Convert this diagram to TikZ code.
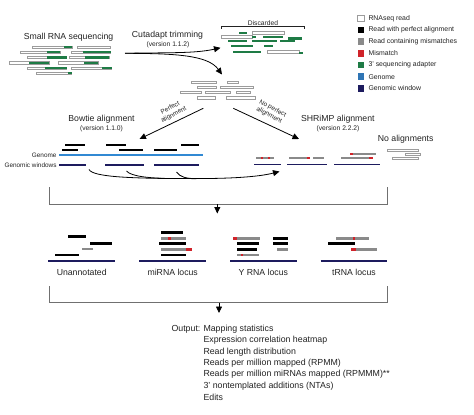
\documentclass[tikz,border=0pt]{standalone}
\usepackage{fontspec}
\setmainfont{Liberation Sans}
\usetikzlibrary{arrows.meta}
\definecolor{readgray}{HTML}{9C9C9C}
\definecolor{adaptgreen}{HTML}{1E7B45}
\definecolor{mmgray}{HTML}{8A8A8A}
\definecolor{mmred}{HTML}{D0232A}
\definecolor{genomeblue}{HTML}{3189D3}
\definecolor{legblue}{HTML}{2F75B5}
\definecolor{winnavy}{HTML}{1D1B5E}
\definecolor{boxgray}{HTML}{707070}
\definecolor{txt}{HTML}{222222}
\newcommand\rnaR[3]{\draw[rnaread] (#1,#3-1.1) rectangle (#2,#3+1.1);}
\newcommand\grnR[3]{\fill[adaptgreen] (#1,#3-1.15) rectangle (#2,#3+1.15);}
\newcommand\blkR[3]{\fill[black] (#1,#3-1.4) rectangle (#2,#3+1.4);}
\newcommand\gryR[3]{\fill[mmgray] (#1,#3-1.4) rectangle (#2,#3+1.4);}
\newcommand\redR[3]{\fill[mmred] (#1,#3-1.4) rectangle (#2,#3+1.4);}
\newcommand\sgryR[3]{\fill[mmgray] (#1,#3-1.1) rectangle (#2,#3+1.1);}
\newcommand\sredR[3]{\fill[mmred] (#1,#3-1.1) rectangle (#2,#3+1.1);}
\begin{document}
\begin{tikzpicture}[x=1pt,y=-1pt,
  rnaread/.style={draw=readgray, fill=white, line width=0.55pt},
  genomeline/.style={draw=genomeblue, line width=1.8pt},
  windowline/.style={draw=winnavy, line width=1.9pt},
  boxline/.style={draw=boxgray, line width=0.7pt},
  flow/.style={-{Triangle[length=6.5pt,width=6pt]}, line width=0.8pt, black},
  flowplain/.style={line width=0.8pt, black},
  lbl/.style={font=\fontsize{8.7}{10}\selectfont, inner sep=0, text=txt},
  ver/.style={font=\fontsize{6.7}{8}\selectfont, inner sep=0, text=txt},
  leg/.style={font=\fontsize{6.9}{8}\selectfont, inner sep=0, text=txt, anchor=west},
  small/.style={font=\fontsize{6.4}{7.4}\selectfont, inner sep=0, text=txt},
  legsq/.style={minimum size=6.7pt, inner sep=0},
  outl/.style={font=\fontsize{8.8}{10}\selectfont, inner sep=0, text=txt, anchor=west}
]
\useasboundingbox (0,0) rectangle (474,415);

% ---------- titles ----------
\node[lbl] (srs) at (68.5,37) {Small RNA sequencing};
\node[lbl] (cut) at (167.5,35) {Cutadapt trimming};
\node[ver] (cutv) at (168,44.3) {(version 1.1.2)};
\node[ver] (disc) at (263,22.7) {Discarded};

% ---------- legend ----------
\node[legsq, draw=readgray, fill=white] (l1) at (361,18.3) {};
\node[legsq, fill=black] (l2) at (361,30) {};
\node[legsq, fill=mmgray] (l3) at (361,41.7) {};
\node[legsq, fill=mmred] (l4) at (361,53.3) {};
\node[legsq, fill=adaptgreen] (l5) at (361,65) {};
\node[legsq, fill=legblue] (l6) at (361,76.7) {};
\node[legsq, fill=winnavy] (l7) at (361,88.3) {};
\node[leg] (t1) at (368.3,18.3) {RNAseq read};
\node[leg] (t2) at (368.3,30) {Read with perfect alignment};
\node[leg] (t3) at (368.3,41.7) {Read containing mismatches};
\node[leg] (t4) at (368.3,53.3) {Mismatch};
\node[leg] (t5) at (368.3,65) {3' sequencing adapter};
\node[leg] (t6) at (368.3,76.7) {Genome};
\node[leg] (t7) at (368.3,88.3) {Genomic window};

% ---------- raw reads ----------
\rnaR{32.3}{72.3}{47}\grnR{64.3}{72.3}{47}
\rnaR{77.3}{110.7}{47}
\rnaR{20.7}{60}{52.3}\grnR{46.7}{60}{52.3}
\rnaR{71.7}{110.7}{52.3}\grnR{82.7}{110.7}{52.3}
\rnaR{27.3}{66.7}{57.5}\grnR{46.7}{66.7}{57.5}
\rnaR{69.3}{109.3}{57.5}\grnR{85}{109.3}{57.5}
\rnaR{9.3}{49}{62.7}\grnR{29.3}{49}{62.7}
\rnaR{58.3}{98.3}{62.7}\grnR{84}{98.3}{62.7}
\rnaR{27.3}{66.7}{68}\grnR{45}{66.7}{68}
\rnaR{71.7}{111.7}{68}\grnR{101.7}{111.7}{68}
\rnaR{36}{71.7}{73.3}\grnR{68.3}{71.7}{73.3}

% ---------- discarded ----------
\coordinate (bl) at (221.7,26.7);
\coordinate (br) at (304,26.7);
\draw[line width=0.6pt, txt] ([yshift=-2pt]bl) -- (bl) -- (br) -- ([yshift=-2pt]br);
\grnR{239.3}{246.7}{32.7}
\rnaR{252.7}{284}{32.7}
\rnaR{221.7}{252}{36.7}\grnR{252}{255.5}{36.7}
\grnR{263}{283.3}{36.7}
\grnR{288}{301.7}{38.6}
\grnR{228}{246.7}{41}
\grnR{251.7}{276.7}{41}
\grnR{280}{295}{41}
\grnR{231}{253}{46.3}
\grnR{263.5}{273.3}{46.3}
\grnR{232.7}{261}{51.7}
\rnaR{267}{299}{51.7}\grnR{299}{302.7}{53.2}

% ---------- trimmed reads ----------
\rnaR{191.5}{216.7}{82}
\rnaR{227.3}{238.3}{82}
\rnaR{197.5}{216.7}{87.2}
\rnaR{220}{253}{87.2}
\rnaR{180}{201}{92.4}
\rnaR{205}{230}{92.4}
\rnaR{236.7}{250.7}{92.4}
\rnaR{197.3}{215.7}{97.7}
\rnaR{226}{255}{97.7}

% ---------- cutadapt arrows ----------
\coordinate (c0) at (125,53.3);
\coordinate (cD) at (220.5,47.8);
\coordinate (cT) at (222,74.5);
\draw[flow] (c0) .. controls (170,52.5) and (195,53.5) .. (cD);
\draw[flow] (c0) .. controls (175,53.5) and (208,55) .. (cT);

% ---------- bowtie ----------
\node[lbl] (bow) at (101.5,119.3) {Bowtie alignment};
\node[ver] (bowv) at (101.5,128.5) {(version 1.1.0)};
\node[small, rotate=28, align=center] (perf) at (172,111.5) {Perfect\\alignment};
\coordinate (pa0) at (203.3,108.3);
\coordinate (pa1) at (139.5,139);
\draw[flow] (pa0) -- (pa1);

\blkR{65}{85}{145}\blkR{106}{126}{145}\blkR{181}{198.7}{145}
\blkR{61.7}{78.3}{150}\blkR{119.3}{143.3}{150}\blkR{154.3}{176.7}{150}
\coordinate (g0) at (59.3,155.3);
\coordinate (g1) at (203.3,155.3);
\draw[genomeline] (g0) -- (g1);
\node[small, anchor=east] (gl) at (56.7,155.3) {Genome};
\node[small, anchor=east] (wl) at (56.7,165) {Genomic windows};
\coordinate (w1a) at (59.3,165); \coordinate (w1b) at (86,165);
\coordinate (w2a) at (105.3,165); \coordinate (w2b) at (144,165);
\coordinate (w3a) at (154,165); \coordinate (w3b) at (199.3,165);
\draw[windowline] (w1a) -- (w1b);
\draw[windowline] (w2a) -- (w2b);
\draw[windowline] (w3a) -- (w3b);

% curves to SHRiMP
\coordinate (k1) at (89,169.5);
\coordinate (k2) at (126.5,171);
\coordinate (k3) at (176.5,172);
\coordinate (km) at (195,178.6);
\coordinate (kt) at (279.5,171.5);
\draw[flowplain] (k1) .. controls (93,177) and (130,178.6) .. (km);
\draw[flowplain] (k2) .. controls (131,176.5) and (150,178.4) .. (175,178.6);
\draw[flowplain] (k3) .. controls (180,177) and (186,178.5) .. (km);
\draw[flow] (km) .. controls (230,178.6) and (258,177) .. (kt);

% ---------- SHRiMP ----------
\node[lbl] (shr) at (337.8,119.3) {SHRiMP alignment};
\node[ver] (shrv) at (338,128.5) {(version 2.2.2)};
\node[small, rotate=-28, align=center] (nperf) at (271,112) {No perfect\\alignment};
\coordinate (na0) at (233.3,108.3);
\coordinate (na1) at (299,139);
\draw[flow] (na0) -- (na1);
\node[lbl] (noal) at (405.7,139.3) {No alignments};
\rnaR{387.3}{418.3}{150}
\rnaR{405}{420.7}{154.2}
\rnaR{392.3}{418.3}{158.4}

\sgryR{350}{376}{154}\sredR{350}{353.2}{154}
\sgryR{256}{274}{158.3}\sredR{261}{263}{158.3}\sredR{267.5}{269.5}{158.3}
\sgryR{289.3}{310}{158.3}\sredR{306.5}{310}{158.3}
\sgryR{312.7}{324}{158.3}
\sgryR{340.7}{373}{158.3}\sredR{369}{372.5}{158.3}
\coordinate (s1a) at (254,164.5); \coordinate (s1b) at (280.7,164.5);
\coordinate (s2a) at (287.3,164.5); \coordinate (s2b) at (327,164.5);
\coordinate (s3a) at (334,164.5); \coordinate (s3b) at (379.5,164.5);
\draw[windowline] (s1a) -- (s1b);
\draw[windowline] (s2a) -- (s2b);
\draw[windowline] (s3a) -- (s3b);

% ---------- upper collecting box ----------
\coordinate (b1t) at (49.3,187);
\coordinate (b1b) at (49.3,204);
\coordinate (b2b) at (387.3,204);
\coordinate (b2t) at (387.3,187);
\coordinate (bm) at (217.3,204);
\coordinate (bmt) at (217.3,213.5);
\draw[boxline] (b1t) -- (b1b) -- (b2b) -- (b2t);
\draw[flow] (bm) -- (bmt);

% ---------- loci ----------
\coordinate (u0) at (48.3,260.7); \coordinate (u1) at (115,260.7);
\coordinate (m0) at (139.3,260.7); \coordinate (m1) at (206,260.7);
\coordinate (y0) at (230,260.7); \coordinate (y1) at (296.7,260.7);
\coordinate (r0) at (320.7,260.7); \coordinate (r1) at (387.3,260.7);
\draw[windowline] (u0) -- (u1);
\draw[windowline] (m0) -- (m1);
\draw[windowline] (y0) -- (y1);
\draw[windowline] (r0) -- (r1);
\node[lbl] (unl) at (81.7,272.5) {Unannotated};
\node[lbl] (mil) at (172.7,272.5) {miRNA locus};
\node[lbl] (yl) at (263.3,272.5) {Y RNA locus};
\node[lbl] (tl) at (354,272.5) {tRNA locus};

% unannotated
\blkR{68.3}{86}{236.7}
\blkR{90}{112.3}{243.3}
\gryR{81.7}{92.7}{249}
\blkR{55}{79.3}{255}
% miRNA
\blkR{161}{183.3}{232.7}
\gryR{161}{185.7}{238.3}\redR{168}{170.5}{238.3}
\blkR{159}{185.7}{243.7}
\gryR{161}{186}{249.3}\redR{186}{191.5}{249.3}
\blkR{161}{186}{255}
% Y RNA
\gryR{233.3}{260}{238.3}\redR{233.3}{236.7}{238.3}
\blkR{272.7}{288.3}{238.3}
\blkR{236.7}{259.3}{243.7}
\blkR{273.3}{288.3}{243.7}
\blkR{236.7}{256.7}{249.3}
\gryR{277.3}{288.3}{249.3}
\gryR{236.7}{259.3}{255}\redR{240.5}{243}{255}
% tRNA
\gryR{336}{369.3}{238.3}\redR{352.5}{354.5}{238.3}
\blkR{328.3}{355}{243.7}
\gryR{351}{376.7}{249.3}\redR{351}{356}{249.3}

% ---------- lower collecting box ----------
\coordinate (c1t) at (49.3,286);
\coordinate (c1b) at (49.3,302.7);
\coordinate (c2b) at (387.3,302.7);
\coordinate (c2t) at (387.3,286);
\coordinate (cm) at (219,302.7);
\coordinate (cmt) at (219,313);
\draw[boxline] (c1t) -- (c1b) -- (c2b) -- (c2t);
\draw[flow] (cm) -- (cmt);

% ---------- output ----------
\node[font=\fontsize{8.8}{10}\selectfont, inner sep=0, text=txt, anchor=east] (out) at (200.6,329.3) {Output:};
\node[outl] (o1) at (203.3,329.3) {Mapping statistics};
\node[outl] (o2) at (203.3,340.6) {Expression correlation heatmap};
\node[outl] (o3) at (203.3,351.9) {Read length distribution};
\node[outl] (o4) at (203.3,363.2) {Reads per million mapped (RPMM)};
\node[outl] (o5) at (203.3,374.5) {Reads per million miRNAs mapped (RPMMM)**};
\node[outl] (o6) at (203.3,385.8) {3' nontemplated additions (NTAs)};
\node[outl] (o7) at (203.3,397.1) {Edits};
\end{tikzpicture}
\end{document}
